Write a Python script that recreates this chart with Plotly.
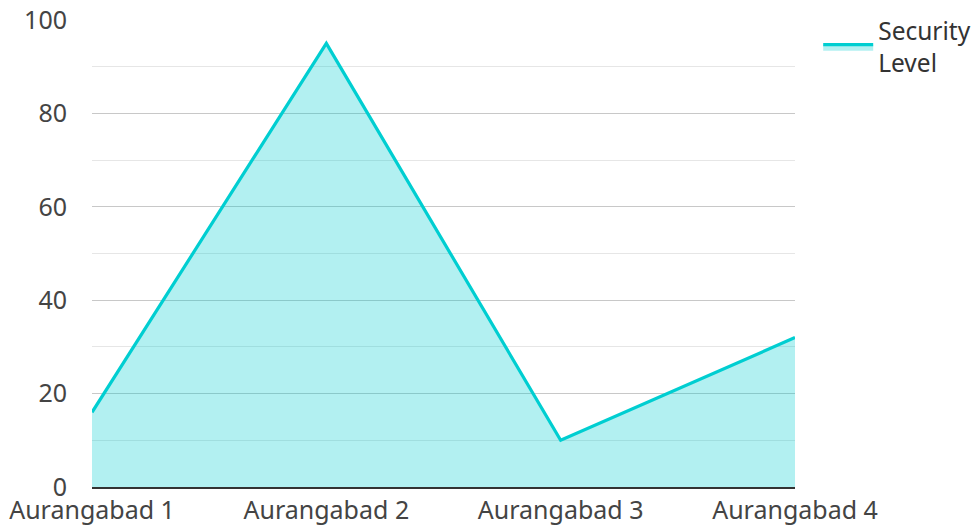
import plotly.graph_objects as go

categories = ["Aurangabad 1", "Aurangabad 2", "Aurangabad 3", "Aurangabad 4"]
security_level = [16, 95, 10, 32]
y_ticks = [0, 20, 40, 60, 80, 100]

fig = go.Figure()
fig.add_trace(go.Scatter(
    x=categories, y=security_level, mode="lines", fill="tozeroy",
    name="Security<br>Level",
    line=dict(color="#00CED1", width=3.2),
    fillcolor="rgba(0,206,209,0.3)",
))

fig.update_layout(
    width=975, height=531,
    margin=dict(l=92, r=180, t=20, b=44, autoexpand=False),
    paper_bgcolor="white", plot_bgcolor="white",
    font=dict(family="Noto Sans", size=25, color="#444"),
    showlegend=True,
    legend=dict(x=1.033, y=1.025, xanchor="left", yanchor="top",
                font=dict(size=24.5, color="#333"), itemwidth=50,
                bgcolor="rgba(0,0,0,0)"),
    xaxis=dict(range=[0, 3], showgrid=False, showline=True, linecolor="#333",
               linewidth=2, ticks="", tickfont=dict(size=25, color="#444"),
               zeroline=False, automargin=False, ticklabeloverflow="allow"),
    yaxis=dict(range=[0, 100], tickvals=y_ticks, showgrid=True,
               gridcolor="#c8c8c8", gridwidth=1, zeroline=False,
               showline=False, ticks="", ticklabelstandoff=24, automargin=False,
               ticklabeloverflow="allow",
               tickfont=dict(size=25, color="#444"),
               minor=dict(dtick=10, showgrid=True, gridcolor="#e6e6e6", gridwidth=1)),
)

fig.write_html("out.html", config={"displayModeBar": False},
               post_script="document.body.style.margin='0px';document.body.style.overflow='hidden';")
